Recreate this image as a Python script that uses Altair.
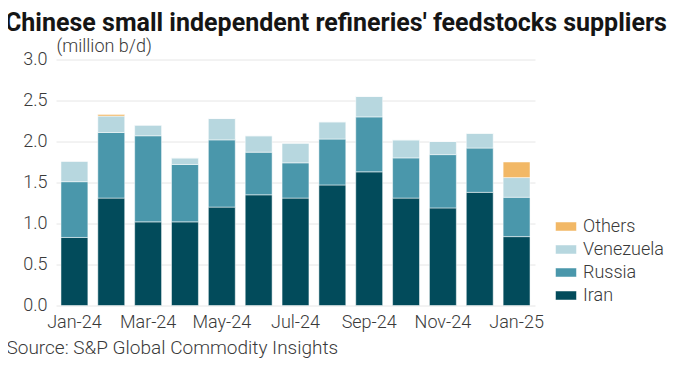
import altair as alt
import pandas as pd

months = ["Jan-24", "Feb-24", "Mar-24", "Apr-24", "May-24", "Jun-24", "Jul-24",
          "Aug-24", "Sep-24", "Oct-24", "Nov-24", "Dec-24", "Jan-25"]
iran = [0.83, 1.31, 1.02, 1.02, 1.20, 1.35, 1.31, 1.47, 1.63, 1.31, 1.19, 1.38, 0.84]
russia = [0.68, 0.80, 1.05, 0.70, 0.82, 0.52, 0.43, 0.56, 0.67, 0.49, 0.65, 0.54, 0.48]
venezuela = [0.25, 0.20, 0.13, 0.08, 0.26, 0.20, 0.24, 0.21, 0.25, 0.22, 0.16, 0.18, 0.24]
others = [0.00, 0.02, 0.00, 0.00, 0.00, 0.00, 0.00, 0.00, 0.00, 0.00, 0.00, 0.00, 0.19]

series = ["Others", "Venezuela", "Russia", "Iran"]
colors = ["#F2B866", "#B7D7DF", "#4A97AB", "#024B5B"]
stack_order = {"Iran": 0, "Russia": 1, "Venezuela": 2, "Others": 3}

rows = []
for i, m in enumerate(months):
    for name, vals in [("Iran", iran), ("Russia", russia), ("Venezuela", venezuela), ("Others", others)]:
        rows.append({"month": m, "series": name, "value": vals[i], "order": stack_order[name]})
df = pd.DataFrame(rows)

FONT = "Roboto"
TXT = "#3A3A3A"
FS = 18
label_months = months[::2]

chart = alt.Chart(df).mark_bar().encode(
    x=alt.X("month:N", sort=months,
            scale=alt.Scale(paddingInner=0.27, paddingOuter=0.135),
            axis=alt.Axis(values=label_months, labelAngle=0, domain=False, ticks=False,
                          labelPadding=8, labelFontSize=FS, labelColor=TXT,
                          labelFont=FONT, labelFontWeight=300,
                          title="Source: S&P Global Commodity Insights",
                          titleFont=FONT, titleFontSize=19, titleFontWeight=300,
                          titleColor=TXT, titleAnchor="start", titleAlign="left",
                          titleX=-50, titleY=47.5, titleBaseline="alphabetic")),
    y=alt.Y("value:Q", stack="zero",
            scale=alt.Scale(domain=[0, 3.0]),
            axis=alt.Axis(values=[0, 0.5, 1.0, 1.5, 2.0, 2.5, 3.0], format=".1f",
                          domain=False, ticks=False, labelPadding=9,
                          labelFontSize=FS, labelColor=TXT, labelFont=FONT,
                          labelFontWeight=300,
                          gridColor="#E6E6E6", gridWidth=1,
                          title="(million b/d)", titleAngle=0, titleX=0, titleY=-8,
                          titleAlign="left", titleBaseline="alphabetic",
                          titleFont=FONT, titleFontSize=FS, titleFontWeight=300,
                          titleColor=TXT)),
    color=alt.Color("series:N", sort=series,
                    scale=alt.Scale(domain=series, range=colors),
                    legend=alt.Legend(title=None, orient="none", legendX=499, legendY=156,
                                      symbolType="M-1,-0.43H1V0.43H-1Z", symbolSize=441,
                                      symbolStrokeWidth=0,
                                      labelFont=FONT, labelFontSize=FS, labelColor=TXT,
                                      labelFontWeight=300,
                                      rowPadding=3, labelOffset=6)),
    order=alt.Order("order:Q", sort="ascending"),
).properties(
    width=479, height=246,
    autosize=alt.AutoSizeParams(type="none"),
    padding={"left": 48, "top": 51.5, "right": 146, "bottom": 52.5},
    title=alt.TitleParams("Chinese small independent refineries' feedstocks suppliers",
                          anchor="start", frame="group", dx=-51, font=FONT,
                          fontSize=25, fontWeight="bold", color="#151515", offset=2),
).configure_view(stroke=None).configure_bar(stroke="white", strokeWidth=0.5)

chart.save("out.html", embed_options={"renderer": "svg", "actions": False})
